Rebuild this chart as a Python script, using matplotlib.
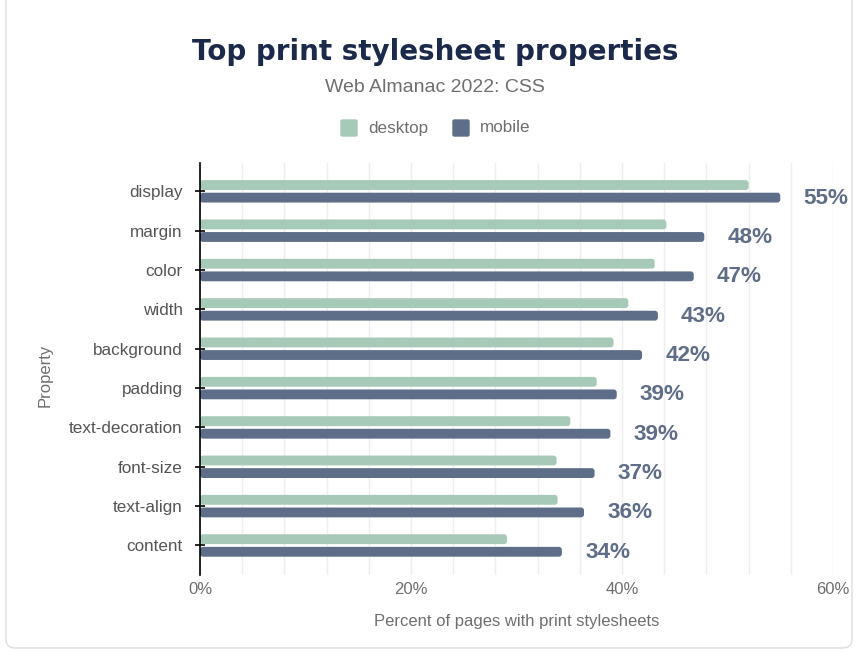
import matplotlib
matplotlib.use("Agg")
import matplotlib.pyplot as plt
import numpy as np
from matplotlib.patches import FancyBboxPatch

properties = ["display", "margin", "color", "width", "background", "padding",
              "text-decoration", "font-size", "text-align", "content"]
desktop = [52.0, 44.2, 43.1, 40.6, 39.2, 37.6, 35.1, 33.8, 33.9, 29.1]
mobile = [55.0, 47.8, 46.8, 43.4, 41.9, 39.5, 38.9, 37.4, 36.4, 34.3]
mobile_labels = ["55%", "48%", "47%", "43%", "42%", "39%", "39%", "37%", "36%", "34%"]
xticks_major = [0, 20, 40, 60]
xtick_labels = ["0%", "20%", "40%", "60%"]

C_DESK = "#a7c9b7"
C_MOB = "#5e6e88"
GRAY = "#6f6f6f"

W, H = 859, 652
fig = plt.figure(figsize=(W / 100, H / 100), dpi=100)
fig.patch.set_facecolor("white")

# outer rounded frame
frame = FancyBboxPatch((6 / W, 4 / H), 846 / W, 700 / H,
                       boxstyle="round,pad=0,rounding_size=0.012",
                       transform=fig.transFigure, fill=False,
                       edgecolor="#dddddd", linewidth=1.0)
fig.patches.append(frame)

ax = fig.add_axes([200 / W, 1 - 575 / H, 633 / W, 412 / H])
y = np.arange(len(properties))
off = 0.16
bh = 0.25
bars_d = ax.barh(y - off, desktop, height=bh, color=C_DESK, zorder=3)
bars_m = ax.barh(y + off, mobile, height=bh, color=C_MOB, zorder=3)

# give bars rounded ends (same geometry as the bar containers)
rx = 0.28
asp = (3.0 / 39.4) / rx
for bars, col in [(bars_d, C_DESK), (bars_m, C_MOB)]:
    for b in bars:
        b.set_visible(False)
        p = FancyBboxPatch((b.get_x(), b.get_y()), b.get_width(), b.get_height(),
                           boxstyle=f"round,pad=0,rounding_size={rx}",
                           mutation_aspect=asp, facecolor=col, edgecolor="none",
                           zorder=3)
        ax.add_patch(p)

for yi, v, lab in zip(y, mobile, mobile_labels):
    ax.text(v + 2.2, yi + 0.17, lab, ha="left", va="center",
            fontsize=16.2, fontweight="bold", color=C_MOB,
            family=["Liberation Sans", "DejaVu Sans"])

ax.set_xlim(0, 60)
ax.set_ylim(9.75, -0.72)
ax.set_xticks(np.arange(0, 61, 4), minor=True)
ax.set_xticks(xticks_major)
ax.set_xticklabels(xtick_labels, fontsize=12, color=GRAY, family="Liberation Sans")
ax.grid(axis="x", which="both", color="#eeeeee", linewidth=1, zorder=0)
ax.tick_params(axis="x", which="both", length=0, pad=5)
ax.set_yticks(y)
ax.set_yticklabels(properties, fontsize=12.3, color="#555555", family="Liberation Sans")
ax.tick_params(axis="y", length=7, direction="inout", width=1.2, color="black", pad=9)
for s in ["top", "right", "bottom"]:
    ax.spines[s].set_visible(False)
ax.spines["left"].set_color("black")
ax.spines["left"].set_linewidth(1.2)
ax.spines["left"].set_zorder(4)

ax.set_xlabel("Percent of pages with print stylesheets", fontsize=12, color=GRAY,
              family="Liberation Sans", labelpad=12)
fig.text(45 / W, 1 - 375 / H, "Property", rotation=90, ha="center", va="center",
         fontsize=12, color=GRAY, family="Liberation Sans")

fig.text(435 / W, 1 - 52 / H, "Top print stylesheet properties", ha="center", va="center",
         fontsize=20, fontweight="heavy", color="#1b2a4a", family=["DejaVu Sans"])
fig.text(435 / W, 1 - 88 / H, "Web Almanac 2022: CSS", ha="center", va="center",
         fontsize=14, color=GRAY, family="Liberation Sans")

# legend
for x0, col, lab in [(341, C_DESK, "desktop"), (453, C_MOB, "mobile")]:
    fig.patches.append(FancyBboxPatch((x0 / W, 1 - 136 / H), 16 / W, 16 / H,
                                      boxstyle="round,pad=0,rounding_size=0.002",
                                      transform=fig.transFigure, color=col))
    fig.text((x0 + 27) / W, 1 - 128 / H, lab, ha="left", va="center",
             fontsize=12.3, color=GRAY, family="Liberation Sans")

fig.savefig("out.png", dpi=100)
